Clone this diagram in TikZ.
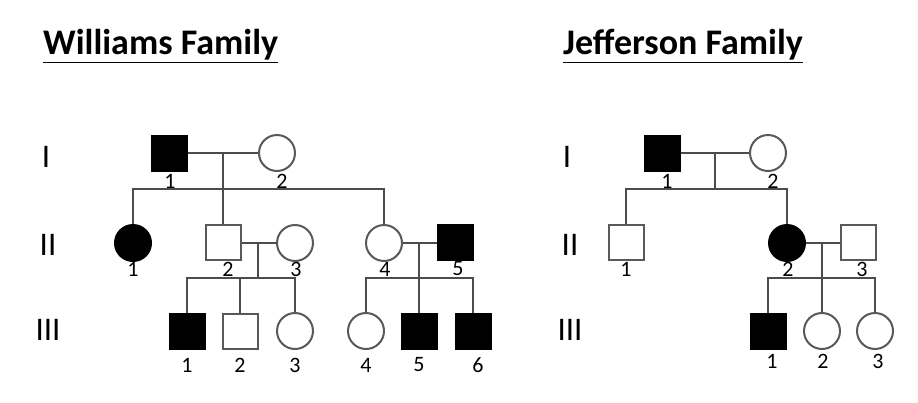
\documentclass[tikz,border=0pt]{standalone}
\usepackage{fontspec}
\setmainfont{Carlito}
\begin{document}
\begin{tikzpicture}[x=1pt,y=-1pt,
  ln/.style={draw=black!70,line width=2pt},
  sq/.style={draw=black!65,line width=2pt,minimum size=35pt,inner sep=0pt,fill=white},
  ci/.style={circle,draw=black!65,line width=2pt,minimum size=36pt,inner sep=0pt,fill=white},
  aff/.style={fill=black,draw=black},
  num/.style={font=\fontsize{22}{22}\selectfont,inner sep=0pt},
  gen/.style={font=\fontsize{33}{33}\selectfont,inner sep=0pt},
  ttl/.style={font=\bfseries\fontsize{36}{36}\selectfont,inner sep=0pt,anchor=west}]
\useasboundingbox (0,0) rectangle (918,402);
\node[ttl] (t1) at (43,46) {\underline{Williams Family}};
\node[ttl] (t2) at (563,46) {\underline{Jefferson Family}};
\node[gen] (g1) at (46,157) {I};
\node[gen] (g2) at (48,245) {II};
\node[gen] (g3) at (48,330) {III};
\node[gen] (h1) at (567,157) {I};
\node[gen] (h2) at (570,245) {II};
\node[gen] (h3) at (570,330) {III};
% Williams lines
\coordinate (wm1) at (223,153); \coordinate (ws1) at (223,189);
\coordinate (wm2) at (258,242); \coordinate (ws2) at (258,278);
\coordinate (wm3) at (419,242); \coordinate (ws3) at (419,278);
\draw[ln] (169,153) -- (277,153);
\draw[ln] (wm1) -- (ws1);
\draw[ln] (133,243) -- (133,189) -- (384,189) -- (384,243);
\draw[ln] (ws1) -- (223,243);
\draw[ln] (223,243) -- (295,243);
\draw[ln] (wm2) -- (ws2);
\draw[ln] (187,331) -- (187,278) -- (295,278) -- (295,331);
\draw[ln] (240,278) -- (240,331);
\draw[ln] (384,243) -- (455,243);
\draw[ln] (wm3) -- (419,331);
\draw[ln] (366,331) -- (366,278) -- (473,278) -- (473,331);
% Williams nodes
\node[sq,aff] (wI1) at (169,153) {};
\node[ci] (wI2) at (277,153) {};
\node[ci,aff] (wII1) at (133,243) {};
\node[sq] (wII2) at (223,242) {};
\node[ci] (wII3) at (295,243) {};
\node[ci] (wII4) at (384,243) {};
\node[sq,aff] (wII5) at (455,242) {};
\node[sq,aff] (wIII1) at (187,331) {};
\node[sq] (wIII2) at (240,331) {};
\node[ci] (wIII3) at (295,331) {};
\node[ci] (wIII4) at (366,331) {};
\node[sq,aff] (wIII5) at (419,331) {};
\node[sq,aff] (wIII6) at (473,331) {};
\foreach \x/\y/\t [count=\i] in {170/181/1,282/181/2,133/269/1,228/269/2,296/269/3,385/269/4,458/269/5,187/365/1,240/365/2,295/365/3,366/365/4,419/365/5,478/365/6}
  \node[num] (wl\i) at (\x,\y) {\t};
% Jefferson lines
\coordinate (jm1) at (715,153); \coordinate (js1) at (715,189);
\coordinate (jm2) at (822,243); \coordinate (js2) at (822,278);
\draw[ln] (662,153) -- (768,153);
\draw[ln] (jm1) -- (js1);
\draw[ln] (626,243) -- (626,189) -- (787,189) -- (787,243);
\draw[ln] (787,243) -- (858,243);
\draw[ln] (jm2) -- (822,331);
\draw[ln] (768,331) -- (768,278) -- (875,278) -- (875,331);
\node[sq,aff] (jI1) at (662,153) {};
\node[ci] (jI2) at (768,153) {};
\node[sq] (jII1) at (626,242) {};
\node[ci,aff] (jII2) at (787,243) {};
\node[sq] (jII3) at (858,242) {};
\node[sq,aff] (jIII1) at (768,331) {};
\node[ci] (jIII2) at (822,331) {};
\node[ci] (jIII3) at (875,331) {};
\foreach \x/\y/\t [count=\i] in {667/181/1,773/181/2,626/269/1,788/269/2,862/269/3,772/361/1,823/361/2,878/361/3}
  \node[num] (jl\i) at (\x,\y) {\t};
\end{tikzpicture}
\end{document}
